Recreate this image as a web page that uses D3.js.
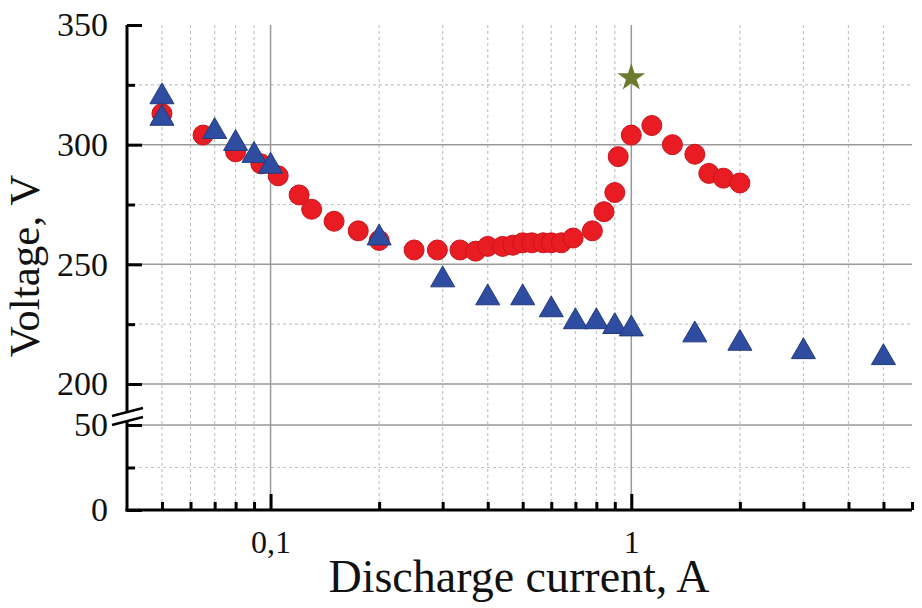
<!DOCTYPE html>
<html>
<head>
<meta charset="utf-8">
<script src="https://cdn.jsdelivr.net/npm/d3@7"></script>
<style>
  body { margin: 0; background: #fff; }
  svg text { font-family: "Liberation Serif", "Times New Roman", serif; fill: #111; }
</style>
</head>
<body>
<div id="chart"></div>
<script>
// red circles
var redX = [0.05, 0.065, 0.08, 0.094, 0.105, 0.12, 0.13, 0.15, 0.175, 0.2, 0.25, 0.29, 0.335, 0.37, 0.4, 0.44, 0.47, 0.5, 0.53, 0.57, 0.6, 0.64, 0.69, 0.78, 0.84, 0.9, 0.92, 1.0, 1.14, 1.3, 1.5, 1.64, 1.8, 2.0];
var redV = [313, 304, 297, 292, 287, 279, 273, 268, 264, 260, 256, 256, 256, 255.5, 257.5, 257.5, 258, 259, 259, 259, 259, 259, 261, 264, 272, 280, 295, 304, 308, 300, 296, 288, 286, 284];
// blue triangles
var blueX = [0.05, 0.05, 0.07, 0.08, 0.09, 0.1, 0.2, 0.3, 0.4, 0.5, 0.6, 0.7, 0.8, 0.9, 1.0, 1.5, 2, 3, 5];
var blueV = [320, 311, 305.5, 300.5, 295.5, 291, 261, 243.5, 236, 236, 231, 226, 226, 224, 223, 220.5, 217, 213.5, 211];
// olive star
var starX = [1.0];
var starV = [328];

var xMajor = [0.1, 1];
var xMajorLabels = ["0,1", "1"];
var xMinor = [0.05, 0.06, 0.07, 0.08, 0.09, 0.2, 0.3, 0.4, 0.5, 0.6, 0.7, 0.8, 0.9, 2, 3, 4, 5, 6];
var yTopMajor = [200, 250, 300, 350];
var yTopMinor = [225, 275, 325];
var yBotMajor = [0, 50];
var yBotMinor = [25];

var W = 922, H = 608;
var margin = {top: 25, right: 10, bottom: 98, left: 127};
var plotW = W - margin.left - margin.right;
var plotH = H - margin.top - margin.bottom;
var topH = 359, gapH = 41;

var svg = d3.select("#chart").append("svg")
  .attr("width", W).attr("height", H);
var g = svg.append("g")
  .attr("transform", "translate(" + margin.left + "," + margin.top + ")");

var x = d3.scaleLog().domain([0.04, 6]).range([0, plotW]);
var yTop = d3.scaleLinear().domain([200, 350]).range([topH, 0]);
var yBot = d3.scaleLinear().domain([0, 50]).range([plotH, topH + gapH]);

function yv(v) { return v >= 200 ? yTop(v) : yBot(v); }

// grid
var grid = g.append("g");
grid.selectAll(".vmin").data(xMinor.filter(function(d){ return d < 6; })).enter().append("line")
  .attr("x1", x).attr("x2", x).attr("y1", 0).attr("y2", plotH)
  .attr("stroke", "#c4c4c4").attr("stroke-width", 1.2).attr("stroke-dasharray", "3,3");
var hMinor = yTopMinor.map(yTop).concat(yBotMinor.map(yBot));
grid.selectAll(".hmin").data(hMinor).enter().append("line")
  .attr("x1", 0).attr("x2", plotW).attr("y1", function(d){ return d; }).attr("y2", function(d){ return d; })
  .attr("stroke", "#c4c4c4").attr("stroke-width", 1.2).attr("stroke-dasharray", "3,3");
grid.selectAll(".vmaj").data(xMajor).enter().append("line")
  .attr("x1", x).attr("x2", x).attr("y1", 0).attr("y2", plotH)
  .attr("stroke", "#999").attr("stroke-width", 1.5);
var hMajor = [200, 250, 300].map(yTop).concat([50].map(yBot));
grid.selectAll(".hmaj").data(hMajor).enter().append("line")
  .attr("x1", 0).attr("x2", plotW).attr("y1", function(d){ return d; }).attr("y2", function(d){ return d; })
  .attr("stroke", "#999").attr("stroke-width", 1.5);

// axes
function styleAxis(sel) {
  sel.select(".domain").remove();
  sel.selectAll(".tick line").attr("stroke", "#000").attr("stroke-width", 3);
  sel.selectAll(".tick text").style("font-size", "34px").style("fill", "#111");
}

g.append("g").call(d3.axisLeft(yTop).tickValues(yTopMajor).tickSizeInner(-15).tickPadding(19).tickFormat(d3.format("d"))).call(styleAxis);
g.append("g").call(d3.axisLeft(yTop).tickValues(yTopMinor).tickSizeInner(-8).tickFormat("")).call(styleAxis);
g.append("g").call(d3.axisLeft(yBot).tickValues(yBotMajor).tickSizeInner(-15).tickPadding(19).tickFormat(d3.format("d"))).call(styleAxis);
g.append("g").call(d3.axisLeft(yBot).tickValues(yBotMinor).tickSizeInner(-8).tickFormat("")).call(styleAxis);

var xg = g.append("g").attr("transform", "translate(0," + plotH + ")");
xg.append("g").call(d3.axisBottom(x).tickValues(xMajor).tickSizeInner(-16).tickPadding(20)
  .tickFormat(function(d, i){ return xMajorLabels[i]; })).call(styleAxis);
xg.append("g").call(d3.axisBottom(x).tickValues(xMinor).tickSizeInner(-8).tickFormat("")).call(styleAxis);
xg.selectAll(".tick text").style("font-size", "32px");

// axis lines
g.append("line").attr("x1", 0).attr("x2", 0).attr("y1", 0).attr("y2", plotH + 1.5)
  .attr("stroke", "#000").attr("stroke-width", 3);
g.append("line").attr("x1", -1.5).attr("x2", plotW).attr("y1", plotH).attr("y2", plotH)
  .attr("stroke", "#000").attr("stroke-width", 3);

// axis break
var bY = topH + 28;
var brk = g.append("g");
brk.append("path")
  .attr("d", "M-8," + (bY + 2) + "L8," + (bY - 2) + "L8," + (bY + 7) + "L-8," + (bY + 11) + "Z")
  .attr("fill", "#fff");
[0, 9].forEach(function(o) {
  brk.append("line").attr("x1", -15).attr("x2", 16)
    .attr("y1", bY + 4 + o).attr("y2", bY - 4 + o)
    .attr("stroke", "#000").attr("stroke-width", 2.5);
});

// data
g.selectAll(".red").data(redX).enter().append("circle")
  .attr("cx", function(d){ return x(d); })
  .attr("cy", function(d, i){ return yv(redV[i]); })
  .attr("r", 10)
  .attr("fill", "#e81c22").attr("stroke", "#c8141a").attr("stroke-width", 1);

var tri = d3.symbol().type(d3.symbolTriangle).size(250);
g.selectAll(".blue").data(blueX).enter().append("path")
  .attr("d", tri)
  .attr("transform", function(d, i){ return "translate(" + x(d) + "," + yv(blueV[i]) + ")"; })
  .attr("fill", "#2f4da0").attr("stroke", "#22397e").attr("stroke-width", 1);

var star = d3.symbol().type(d3.symbolStar).size(240);
g.selectAll(".star").data(starX).enter().append("path")
  .attr("d", star)
  .attr("transform", function(d, i){ return "translate(" + x(d) + "," + yv(starV[i]) + ")"; })
  .attr("fill", "#6b7a2c");

// titles
svg.append("text")
  .attr("x", 519).attr("y", 592)
  .attr("text-anchor", "middle")
  .style("font-size", "46px")
  .text("Discharge current, A");

svg.append("text")
  .attr("transform", "translate(39,266) rotate(-90)")
  .attr("text-anchor", "middle")
  .style("font-size", "43px")
  .text("Voltage, V");
</script>
</body>
</html>
